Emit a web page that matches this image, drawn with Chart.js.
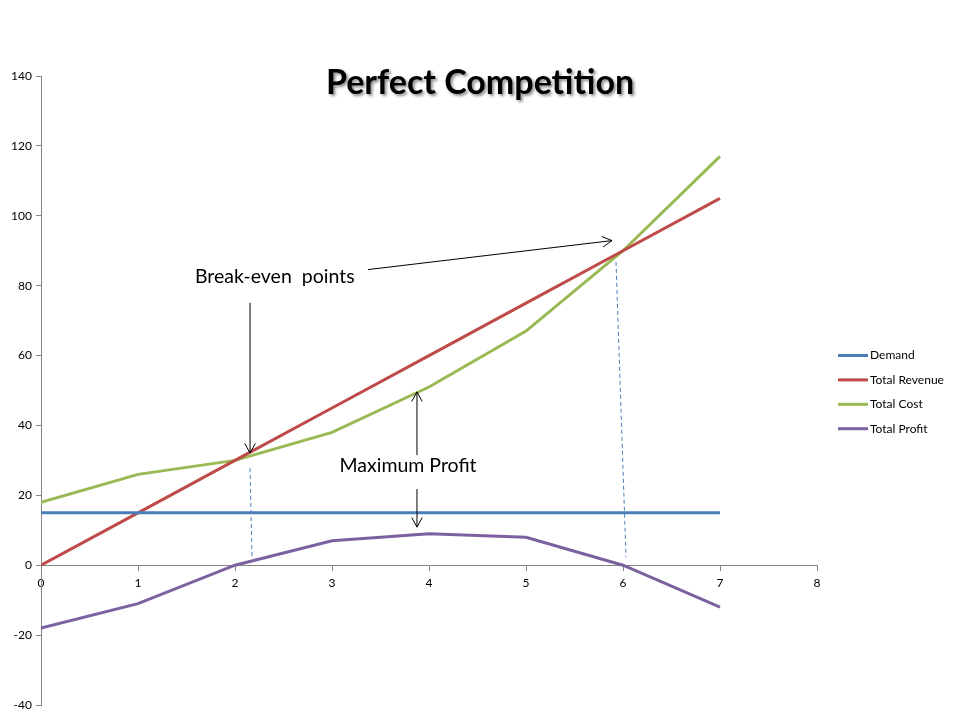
<!DOCTYPE html>
<html>
<head>
<meta charset="utf-8">
<title>Perfect Competition</title>
<script src="https://cdn.jsdelivr.net/npm/chart.js@4.4.1/dist/chart.umd.min.js"></script>
<style>
  html, body { margin: 0; padding: 0; background: #fff; }
  #wrap { width: 960px; height: 720px; }
</style>
</head>
<body>
<div id="wrap"><canvas id="chart" width="960" height="720"></canvas></div>
<script>
  // ────────── Data ──────────
  const quantity     = [0, 1, 2, 3, 4, 5, 6, 7];
  const demand       = [15, 15, 15, 15, 15, 15, 15, 15];
  const totalRevenue = [0, 15, 30, 45, 60, 75, 90, 105];
  const totalCost    = [18, 26, 30, 38, 51, 67, 90, 117];
  const totalProfit  = [-18, -11, 0, 7, 9, 8, 0, -12];
  const seriesNames  = ['Demand', 'Total Revenue', 'Total Cost', 'Total Profit'];
  const yTicks       = [-40, -20, 0, 20, 40, 60, 80, 100, 120, 140];
  const xTicks       = [0, 1, 2, 3, 4, 5, 6, 7, 8];

  const colors = ['#4A7EBB', '#BE4B48', '#98B954', '#7D60A0'];
  const FONT = 'Lato, "Open Sans", sans-serif';

  const toPoints = ys => quantity.map((q, i) => ({ x: q, y: ys[i] }));

  // ────────── Annotation plugin (title, arrows, dashed guides, legend) ──────────
  function arrow(ctx, x1, y1, x2, y2) {
    const a = Math.atan2(y2 - y1, x2 - x1);
    const len = 11, spread = 0.5;
    ctx.beginPath();
    ctx.moveTo(x1, y1);
    ctx.lineTo(x2, y2);
    ctx.moveTo(x2 - len * Math.cos(a - spread), y2 - len * Math.sin(a - spread));
    ctx.lineTo(x2, y2);
    ctx.lineTo(x2 - len * Math.cos(a + spread), y2 - len * Math.sin(a + spread));
    ctx.stroke();
  }

  const annotations = {
    id: 'annotations',
    afterDatasetsDraw(chart) {
      const { ctx, chartArea, scales: { x, y } } = chart;
      const px = v => x.getPixelForValue(v);
      const py = v => y.getPixelForValue(v);
      ctx.save();

      // dashed guides down from the break-even points
      ctx.strokeStyle = '#4A7EBB';
      ctx.lineWidth = 1;
      ctx.setLineDash([4, 3]);
      ctx.beginPath();
      ctx.moveTo(px(2.155), py(27.8)); ctx.lineTo(px(2.175), py(2.3));
      ctx.moveTo(px(5.928), py(86.8)); ctx.lineTo(px(6.031), py(2.3));
      ctx.stroke();
      ctx.setLineDash([]);

      // arrows
      ctx.strokeStyle = '#000';
      ctx.lineWidth = 1;
      arrow(ctx, px(2.155), py(75.1), px(2.155), py(32.1));
      arrow(ctx, px(3.371), py(84.6), px(5.887), py(92.9));
      arrow(ctx, px(3.876), py(31.5), px(3.876), py(49.6));
      arrow(ctx, px(3.876), py(21.8), px(3.876), py(10.9));

      // text labels
      ctx.fillStyle = '#000';
      ctx.font = '19.5px ' + FONT;
      ctx.textAlign = 'center';
      ctx.textBaseline = 'middle';
      ctx.fillText('Break-even  points', px(2.41), py(82.5));
      ctx.fillText('Maximum Profit', px(3.784), py(28.4));

      // title with soft shadow
      ctx.font = 'bold 34px ' + FONT;
      ctx.shadowColor = 'rgba(0,0,0,0.45)';
      ctx.shadowBlur = 3;
      ctx.shadowOffsetX = 2;
      ctx.shadowOffsetY = 2;
      ctx.fillText('Perfect Competition', 480, 83);
      ctx.shadowColor = 'transparent';

      // legend
      const midY = (chartArea.top + chartArea.bottom) / 2;
      const lx = chartArea.right + 21;
      ctx.font = '12px ' + FONT;
      ctx.textAlign = 'left';
      chart.data.datasets.forEach((ds, i) => {
        const ly = midY - 35 + i * 24.4;
        ctx.strokeStyle = ds.borderColor;
        ctx.lineWidth = 3;
        ctx.beginPath();
        ctx.moveTo(lx, ly); ctx.lineTo(lx + 30, ly);
        ctx.stroke();
        ctx.fillStyle = '#000';
        ctx.fillText(ds.label, lx + 32, ly);
      });
      ctx.restore();
    }
  };

  // ────────── Chart ──────────
  const datasets = [demand, totalRevenue, totalCost, totalProfit].map((ys, i) => ({
    label: seriesNames[i],
    data: toPoints(ys),
    borderColor: colors[i],
    backgroundColor: colors[i],
    borderWidth: 3,
    pointRadius: 0,
    tension: 0,
    fill: false
  }));

  const axisGrey = '#868686';
  new Chart(document.getElementById('chart').getContext('2d'), {
    type: 'line',
    data: { datasets },
    options: {
      responsive: false,
      animation: false,
      layout: { padding: { top: 76, right: 143, bottom: 15, left: 0 } },
      plugins: { legend: { display: false }, tooltip: { enabled: false } },
      scales: {
        x: {
          type: 'linear',
          min: 0, max: 8,
          position: { y: 0 },
          afterBuildTicks: s => { s.ticks = xTicks.map(v => ({ value: v })); },
          ticks: { color: '#000', font: { family: FONT, size: 12 }, padding: 6 },
          grid: { drawOnChartArea: false, drawTicks: true, tickLength: 5, color: axisGrey },
          border: { color: axisGrey, width: 1 }
        },
        y: {
          type: 'linear',
          min: -40, max: 140,
          afterBuildTicks: s => { s.ticks = yTicks.map(v => ({ value: v })); },
          afterFit: s => { s.width = 41; },
          ticks: { color: '#000', font: { family: FONT, size: 12 }, padding: 4 },
          grid: { drawOnChartArea: false, drawTicks: true, tickLength: 5, color: axisGrey },
          border: { color: axisGrey, width: 1 }
        }
      }
    },
    plugins: [annotations]
  });
</script>
</body>
</html>
